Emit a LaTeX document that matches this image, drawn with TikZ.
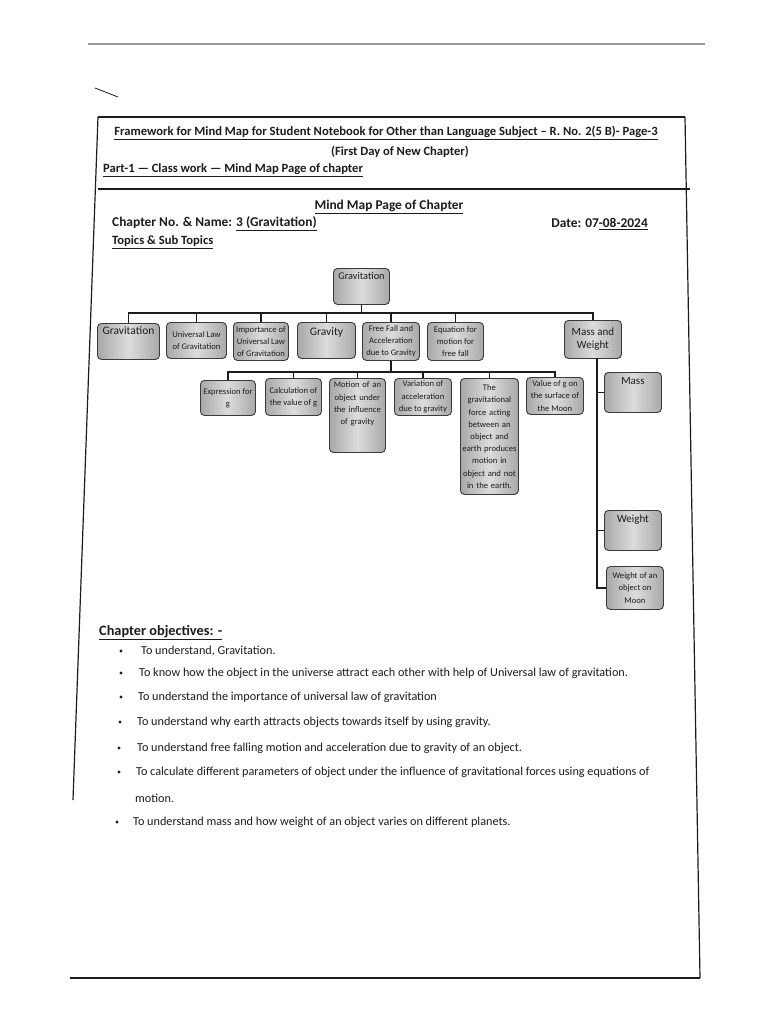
\documentclass[tikz,border=0pt]{standalone}
\usepackage{fontspec}
\setmainfont{Carlito}
\usetikzlibrary{positioning, calc}
\definecolor{ink}{HTML}{1C1C1C}
\definecolor{boxline}{HTML}{3A3A3A}
\definecolor{boxdark}{HTML}{A8A8A8}
\definecolor{boxlight}{HTML}{DCDCDC}
\definecolor{rulegray}{HTML}{9A9A98}
\tikzset{
    mapbox/.style={
        rectangle, rounded corners=4pt, draw=boxline, line width=0.9pt,
        left color=boxdark, right color=boxdark, middle color=boxlight,
        anchor=north west, align=center, inner sep=1.5pt, text=ink,
        font=\fontsize{8.6}{12.2}\selectfont
    },
    bigbox/.style={
        mapbox, font=\fontsize{11.5}{13}\selectfont
    },
    link/.style={
        draw=ink, line width=1.1pt
    },
    headtext/.style={
        font=\fontsize{12.6}{14}\selectfont\bfseries, text=ink, inner sep=0pt
    },
    bigtext/.style={
        font=\fontsize{13.4}{15}\selectfont\bfseries, text=ink, inner sep=0pt
    },
    bodytext/.style={
        font=\fontsize{12.2}{14}\selectfont, text=ink, inner sep=0pt, anchor=west
    },
    frame/.style={
        draw=ink, line width=1.2pt
    },
}

\begin{document}
\begin{tikzpicture}[x=1pt, y=-1pt]

    \fill[white] (0,0) rectangle (768,1024);
    \useasboundingbox (0,0) rectangle (768,1024);

    % ── Page edges ──
    \draw[rulegray, line width=2.5pt] (88,44) -- (705,44);
    \draw[ink, line width=0.8pt] (95,88) -- (118,97);
    \draw[frame] (98,117) -- (685,117);
    \draw[frame] (98,189) -- (690,189);
    \draw[frame] (685,117) -- (700,978);
    \draw[frame] (98,117) -- (73,800);
    \draw[frame, line width=1.8pt] (70,978) -- (700,978);

    % ── Header ──
    \node[headtext] (frametitle) at (386,133) {\underline{Framework for Mind Map for Student Notebook for Other than Language Subject – R. No. 2(5 B)- Page-3}};
    \node[headtext] (firstday) at (400,152) {(First Day of New Chapter)};
    \node[headtext, anchor=west] (part) at (103,170) {\underline{Part-1 — Class work — Mind Map Page of chapter}};

    \node[bigtext] (mmtitle) at (389,207) {\underline{Mind Map Page of Chapter}};
    \node[bigtext, anchor=west] (chapname) at (112,224) {Chapter No. \& Name: \underline{3 (Gravitation)}};
    \node[bigtext, anchor=east] (date) at (648,224) {Date: 07\underline{-08-2024}};
    \node[headtext, anchor=west] (topics) at (112,242) {\underline{Topics \& Sub Topics}};

    % ── Mind map: root and first level ──
    \node[mapbox, font=\fontsize{10.3}{12}\selectfont, minimum width=56pt, text height=10pt, text depth=23pt] (root) at (333,268) {Gravitation};

    \node[bigbox, minimum width=62pt, text height=10pt, text depth=23pt] (gravA) at (97,323) {Gravitation};
    \node[mapbox, minimum width=60pt, minimum height=36pt] (univ) at (166,322) {Universal Law\\of Gravitation};
    \node[mapbox, minimum width=55pt, minimum height=38pt] (import) at (233,322) {Importance of\\Universal Law\\of Gravitation};
    \node[bigbox, minimum width=58pt, text height=12pt, text depth=21pt] (gravity) at (297,322) {Gravity};
    \node[mapbox, minimum width=57pt, minimum height=38pt] (freefall) at (362,322) {Free Fall and\\Acceleration\\due to Gravity};
    \node[mapbox, minimum width=56pt, minimum height=38pt] (eqmotion) at (427,322) {Equation for\\motion for\\free fall};
    \node[mapbox, font=\fontsize{11}{13}\selectfont, minimum width=57pt, minimum height=38pt] (massw) at (564,320) {Mass and\\Weight};

    % ── Second level under free fall ──
    \node[mapbox, minimum width=55pt, minimum height=35pt] (exprg) at (200,380) {Expression for\\g};
    \node[mapbox, minimum width=56pt, minimum height=37pt] (calcg) at (265,378) {Calculation of\\the value of g};
    \node[mapbox, text width=53pt, text height=8pt, text depth=63pt] (motiong) at (329,378) {Motion of an\\object under\\the influence\\of gravity};
    \node[mapbox, minimum width=57pt, minimum height=37pt] (variation) at (394,378) {Variation of\\acceleration\\due to gravity};
    \node[mapbox, text width=55pt, minimum height=116pt] (earthforce) at (460,378) {The\\gravitational\\force acting\\between an\\object and\\earth produces\\motion in\\object and not\\in the earth.};
    \node[mapbox, minimum width=57pt, minimum height=37pt] (moong) at (526,377) {Value of g on\\the surface of\\the Moon};

    % ── Mass and weight branch ──
    \node[mapbox, font=\fontsize{11}{13}\selectfont, minimum width=57pt, text height=11pt, text depth=26pt] (mass) at (604,372) {Mass};
    \node[mapbox, font=\fontsize{11}{13}\selectfont, minimum width=57pt, text height=11pt, text depth=26pt] (weight) at (604,510) {Weight};
    \node[mapbox, minimum width=57pt, minimum height=43pt] (wmoon) at (606,566) {Weight of an\\object on\\Moon};

    % ── Connectors ──
    \coordinate (bar1) at (361,313);
    \coordinate (bar2) at (390,372);
    \coordinate (spine) at (597,358);

    \draw[link] (root.south) -- (root.south |- bar1);
    \draw[link] (gravA.north) |- (bar1) -| (massw.north);
    \foreach \n in {univ, import, gravity, freefall, eqmotion}
        \draw[link] (\n.north) -- (\n.north |- bar1);

    \draw[link] (freefall.south) -- (freefall.south |- bar2);
    \draw[link] (exprg.north) |- (bar2) -| (moong.north);
    \foreach \n in {calcg, motiong, variation, earthforce}
        \draw[link] (\n.north) -- (\n.north |- bar2);

    \draw[link] (spine) -- (spine |- wmoon.west) -- (wmoon.west);
    \draw[link] (spine |- mass.west) -- (mass.west);
    \draw[link] (spine |- weight.west) -- (weight.west);

    % ── Chapter objectives ──
    \node[bodytext, font=\fontsize{14.3}{16}\selectfont\bfseries] (objtitle) at (99,633) {\underline{Chapter objectives: -}};
    \foreach \bx/\by in {121/651, 121/673, 121/697, 120/722, 119/748, 119/772, 117/822}
        \fill[ink] (\bx,\by) circle (1.7pt);
    \node[bodytext] (obja) at (141,651) {To understand, Gravitation.};
    \node[bodytext] (objb) at (139,673) {To know how the object in the universe attract each other with help of Universal law of gravitation.};
    \node[bodytext] (objc) at (138,697) {To understand the importance of universal law of gravitation};
    \node[bodytext] (objd) at (137,722) {To understand why earth attracts objects towards itself by using gravity.};
    \node[bodytext] (obje) at (137,748) {To understand free falling motion and acceleration due to gravity of an object.};
    \node[bodytext] (objf) at (136,772) {To calculate different parameters of object under the influence of gravitational forces using equations of};
    \node[bodytext] (objg) at (135,798) {motion.};
    \node[bodytext] (objh) at (133,822) {To understand mass and how weight of an object varies on different planets.};

\end{tikzpicture}
\end{document}
